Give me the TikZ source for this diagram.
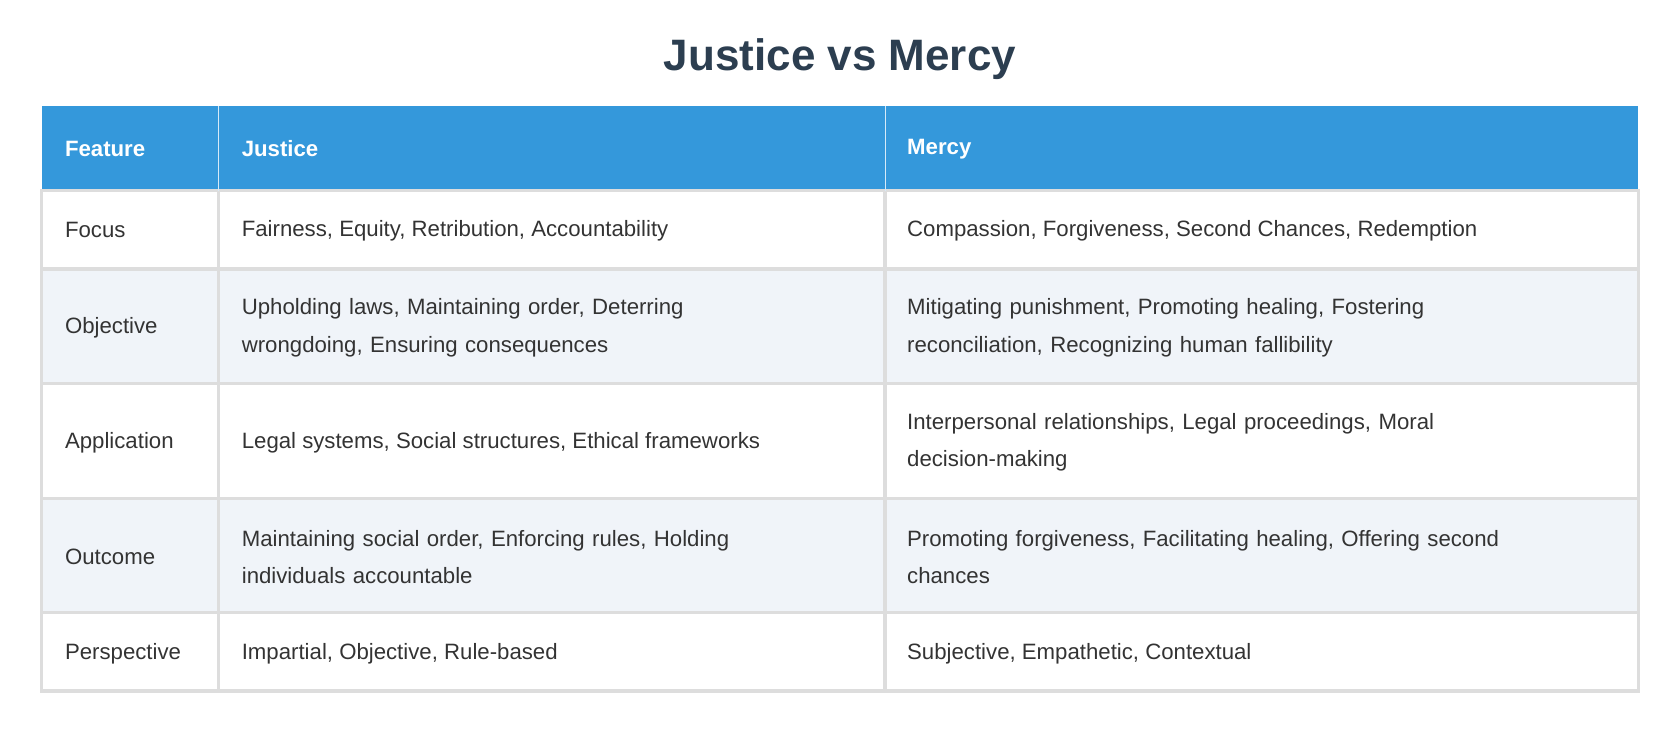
\documentclass[tikz,border=0pt]{standalone}
\usepackage{fontspec}
\setmainfont{Liberation Sans}
\definecolor{headblue}{HTML}{3498DB}
\definecolor{titleink}{HTML}{2C3E50}
\definecolor{rowtint}{HTML}{F0F4F9}
\definecolor{gridgray}{HTML}{DDDDDD}
\definecolor{bodyink}{HTML}{333333}
\tikzset{every picture/.style={line width=0.75pt}}
\tikzset{
  celltext/.style={anchor=west,inner sep=0pt,align=left,text=bodyink,font=\fontsize{11.1}{18.75}\selectfont},
  headtext/.style={anchor=west,inner sep=0pt,text=white,font=\fontsize{11.1}{13}\selectfont\bfseries},
  gridline/.style={draw=gridgray,line width=1.6pt}
}
\begin{document}
\begin{tikzpicture}[x=0.5357pt,y=-0.5357pt]
\useasboundingbox (0,0) rectangle (1568,687);

% Title
\node (title) [text=titleink,font=\fontsize{22}{26}\selectfont\bfseries] at (784,55) {Justice vs Mercy};

% Header band and row tints
\fill [headblue] (39,99) rectangle (1529,178);
\fill [rowtint] (39,251) rectangle (1529,358);
\fill [rowtint] (39,465) rectangle (1529,572);

% Grid
\draw [gridline] (39,178) rectangle (1529,645);
\foreach \y in {251,358,465,572} {\draw [gridline] (39,\y) -- (1529,\y);}
\foreach \x in {204,826} {\draw [gridline] (\x,178) -- (\x,645);}
\draw [draw=white!80!headblue,line width=0.5pt] (204,99) -- (204,178);
\draw [draw=white!80!headblue,line width=0.5pt] (826,99) -- (826,178);

% Header
\node (hfeat) [headtext] at (60,139) {Feature};
\node (hjust) [headtext] at (225,139) {Justice};
\node (hmerc) [headtext] at (846,139) {Mercy};

% Rows
\node (focus) [celltext] at (60,215) {Focus};
\node (focusj) [celltext] at (225,215) {Fairness, Equity, Retribution, Accountability};
\node (focusm) [celltext] at (846,215) {Compassion, Forgiveness, Second Chances, Redemption};

\node (obj) [celltext] at (60,306) {Objective};
\node (objj) [celltext,text width=311pt] at (225,306) {Upholding laws, Maintaining order, Deterring\\wrongdoing, Ensuring consequences};
\node (objm) [celltext,text width=354pt] at (846,306) {Mitigating punishment, Promoting healing, Fostering\\reconciliation, Recognizing human fallibility};

\node (appl) [celltext] at (60,413) {Application};
\node (applj) [celltext] at (225,413) {Legal systems, Social structures, Ethical frameworks};
\node (applm) [celltext,text width=354pt] at (846,413) {Interpersonal relationships, Legal proceedings, Moral\\decision-making};

\node (outc) [celltext] at (60,520) {Outcome};
\node (outcj) [celltext,text width=311pt] at (225,520) {Maintaining social order, Enforcing rules, Holding\\individuals accountable};
\node (outcm) [celltext,text width=354pt] at (846,520) {Promoting forgiveness, Facilitating healing, Offering second\\chances};

\node (persp) [celltext] at (60,610) {Perspective};
\node (perspj) [celltext] at (225,610) {Impartial, Objective, Rule-based};
\node (perspm) [celltext] at (846,610) {Subjective, Empathetic, Contextual};

\end{tikzpicture}
\end{document}
